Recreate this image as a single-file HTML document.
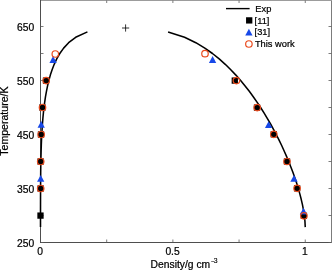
<!DOCTYPE html>
<html><head><meta charset="utf-8"><title>Density</title>
<style>
html,body{margin:0;padding:0;background:#fff;}
svg{display:block;}
text{font-family:"Liberation Sans",Arial,Helvetica,sans-serif;font-size:10.3px;fill:#000;stroke:#000;stroke-width:0.22px;}
.lg text{font-size:9.3px;}
</style></head><body>
<svg width="332" height="271" viewBox="0 0 332 271">
<rect width="332" height="271" fill="#fff"/>
<g stroke="#3a3a3a" stroke-width="0.9" fill="none">
<line x1="40.5" y1="0" x2="40.5" y2="243"/>
<line x1="40" y1="242.5" x2="332" y2="242.5"/>
</g>
<line x1="331.5" y1="0" x2="331.5" y2="243" stroke="#7c7c7c" stroke-width="1"/>
<rect x="41" y="0" width="291" height="1" fill="#9c9c9c"/>
<g stroke="#5a5a5a" stroke-width="0.8"><line x1="40.5" y1="242.5" x2="43.5" y2="242.5"/><line x1="331.5" y1="242.5" x2="328.5" y2="242.5"/><line x1="40.5" y1="215.5" x2="43.5" y2="215.5"/><line x1="331.5" y1="215.5" x2="328.5" y2="215.5"/><line x1="40.5" y1="188.5" x2="43.5" y2="188.5"/><line x1="331.5" y1="188.5" x2="328.5" y2="188.5"/><line x1="40.5" y1="161.5" x2="43.5" y2="161.5"/><line x1="331.5" y1="161.5" x2="328.5" y2="161.5"/><line x1="40.5" y1="134.5" x2="43.5" y2="134.5"/><line x1="331.5" y1="134.5" x2="328.5" y2="134.5"/><line x1="40.5" y1="107.5" x2="43.5" y2="107.5"/><line x1="331.5" y1="107.5" x2="328.5" y2="107.5"/><line x1="40.5" y1="80.5" x2="43.5" y2="80.5"/><line x1="331.5" y1="80.5" x2="328.5" y2="80.5"/><line x1="40.5" y1="53.5" x2="43.5" y2="53.5"/><line x1="331.5" y1="53.5" x2="328.5" y2="53.5"/><line x1="40.5" y1="26.5" x2="43.5" y2="26.5"/><line x1="331.5" y1="26.5" x2="328.5" y2="26.5"/><line x1="106.69" y1="242.5" x2="106.69" y2="239.5"/><line x1="106.69" y1="0.5" x2="106.69" y2="3"/><line x1="172.88" y1="242.5" x2="172.88" y2="239.5"/><line x1="172.88" y1="0.5" x2="172.88" y2="3"/><line x1="239.06" y1="242.5" x2="239.06" y2="239.5"/><line x1="239.06" y1="0.5" x2="239.06" y2="3"/><line x1="305.25" y1="242.5" x2="305.25" y2="239.5"/><line x1="305.25" y1="0.5" x2="305.25" y2="3"/></g>
<g><text x="34.2" y="30.70" text-anchor="end">650</text><text x="34.2" y="84.70" text-anchor="end">550</text><text x="34.2" y="138.70" text-anchor="end">450</text><text x="34.2" y="192.70" text-anchor="end">350</text><text x="34.2" y="246.70" text-anchor="end">250</text><text x="40.20" y="255.4" text-anchor="middle">0</text><text x="172.57" y="255.4" text-anchor="middle">0.5</text><text x="304.95" y="255.4" text-anchor="middle">1</text></g>
<text x="150.6" y="268" >Density/g cm<tspan x="210.9" y="263.3" font-size="5.6px" stroke="#000" stroke-width="0.15">−</tspan><tspan x="213.8" y="263.4" font-size="6.8px" stroke="#000" stroke-width="0.15">3</tspan></text>
<text transform="translate(8.0,155.7) rotate(-90)" style="font-size:10.55px">Temperature/K</text>
<g fill="none" stroke="#000" stroke-width="1.55" stroke-linejoin="round" stroke-linecap="butt">
<polyline points="40.50,227.11 40.50,226.30 40.50,220.90 40.51,215.50 40.51,210.10 40.52,204.70 40.53,199.30 40.55,193.90 40.57,188.50 40.60,183.10 40.64,177.70 40.70,172.30 40.77,166.90 40.86,161.50 40.98,156.10 41.12,150.70 41.30,145.30 41.51,139.90 41.77,134.50 42.08,129.10 42.45,123.70 42.89,118.30 43.40,112.90 43.99,107.50 44.69,102.10 45.50,96.70 46.45,91.30 47.55,85.90 48.83,80.50 50.33,75.10 52.10,69.70 54.20,64.30 56.72,58.90 59.79,53.50 63.63,48.10 68.64,42.70 75.66,37.30 87.43,31.90"/>
<polyline points="305.23,227.11 305.21,226.30 304.92,220.90 304.33,215.50 303.49,210.10 302.44,204.70 301.21,199.30 299.82,193.90 298.29,188.50 296.61,183.10 294.81,177.70 292.89,172.30 290.85,166.90 288.70,161.50 286.43,156.10 284.05,150.70 281.56,145.30 278.95,139.90 276.22,134.50 273.37,129.10 270.39,123.70 267.27,118.30 264.01,112.90 260.60,107.50 257.02,102.10 253.26,96.70 249.29,91.30 245.10,85.90 240.64,80.50 235.89,75.10 230.78,69.70 225.25,64.30 219.20,58.90 212.47,53.50 204.82,48.10 195.83,42.70 184.56,37.30 168.09,31.90"/>
</g>
<g stroke="#000" stroke-width="0.8"><line x1="122" y1="28" x2="129.2" y2="28"/><line x1="125.6" y1="24.4" x2="125.6" y2="31.6"/></g>
<g><rect x="37.35" y="212.45" width="6.3" height="6.3" fill="#000"/><rect x="37.45" y="185.35" width="6.3" height="6.3" fill="#000"/><rect x="37.45" y="158.35" width="6.3" height="6.3" fill="#000"/><rect x="37.85" y="131.35" width="6.3" height="6.3" fill="#000"/><rect x="39.25" y="104.35" width="6.3" height="6.3" fill="#000"/><rect x="42.85" y="77.45" width="6.3" height="6.3" fill="#000"/><rect x="300.75" y="212.65" width="6.3" height="6.3" fill="#000"/><rect x="293.95" y="185.15" width="6.3" height="6.3" fill="#000"/><rect x="283.85" y="158.35" width="6.3" height="6.3" fill="#000"/><rect x="270.65" y="131.15" width="6.3" height="6.3" fill="#000"/><rect x="253.85" y="104.45" width="6.3" height="6.3" fill="#000"/><rect x="231.65" y="77.45" width="6.3" height="6.3" fill="#000"/></g>
<g><polygon points="40.70,174.90 44.35,181.70 37.05,181.70" fill="#1748e8"/><polygon points="41.20,121.00 44.85,127.80 37.55,127.80" fill="#1748e8"/><polygon points="53.10,56.10 56.75,62.90 49.45,62.90" fill="#1748e8"/><polygon points="303.50,207.80 307.15,214.60 299.85,214.60" fill="#1748e8"/><polygon points="294.00,174.90 297.65,181.70 290.35,181.70" fill="#1748e8"/><polygon points="268.60,121.30 272.25,128.10 264.95,128.10" fill="#1748e8"/><polygon points="212.60,56.10 216.25,62.90 208.95,62.90" fill="#1748e8"/></g>
<g><circle cx="40.70" cy="188.50" r="3.25" fill="none" stroke="#ea4a1c" stroke-width="1.2"/><circle cx="40.70" cy="161.50" r="3.25" fill="none" stroke="#ea4a1c" stroke-width="1.2"/><circle cx="41.20" cy="134.50" r="3.25" fill="none" stroke="#ea4a1c" stroke-width="1.2"/><circle cx="42.50" cy="107.50" r="3.25" fill="none" stroke="#ea4a1c" stroke-width="1.2"/><circle cx="46.20" cy="80.60" r="3.25" fill="none" stroke="#ea4a1c" stroke-width="1.2"/><circle cx="55.30" cy="54.00" r="3.25" fill="none" stroke="#ea4a1c" stroke-width="1.2"/><circle cx="303.90" cy="215.80" r="3.25" fill="none" stroke="#ea4a1c" stroke-width="1.2"/><circle cx="297.10" cy="188.30" r="3.25" fill="none" stroke="#ea4a1c" stroke-width="1.2"/><circle cx="287.00" cy="161.50" r="3.25" fill="none" stroke="#ea4a1c" stroke-width="1.2"/><circle cx="273.80" cy="134.30" r="3.25" fill="none" stroke="#ea4a1c" stroke-width="1.2"/><circle cx="257.20" cy="107.60" r="3.25" fill="none" stroke="#ea4a1c" stroke-width="1.2"/><circle cx="236.40" cy="80.60" r="3.25" fill="none" stroke="#ea4a1c" stroke-width="1.2"/><circle cx="205.00" cy="53.70" r="3.25" fill="none" stroke="#ea4a1c" stroke-width="1.2"/></g>
<g class="lg">
<line x1="226" y1="8.6" x2="249.6" y2="8.6" stroke="#000" stroke-width="1.4"/>
<text x="255.3" y="11.5">Exp</text>
<rect x="246.05" y="17.25" width="6.3" height="6.3" fill="#000"/>
<text x="254.6" y="23.6">[11]</text>
<polygon points="248.90,28.80 252.55,35.60 245.25,35.60" fill="#1748e8"/>
<text x="254.6" y="35.3">[31]</text>
<circle cx="248.90" cy="44.00" r="3.25" fill="none" stroke="#ea4a1c" stroke-width="1.2"/>
<text x="254.9" y="47.2">This work</text>
</g>
</svg>
</body></html>
